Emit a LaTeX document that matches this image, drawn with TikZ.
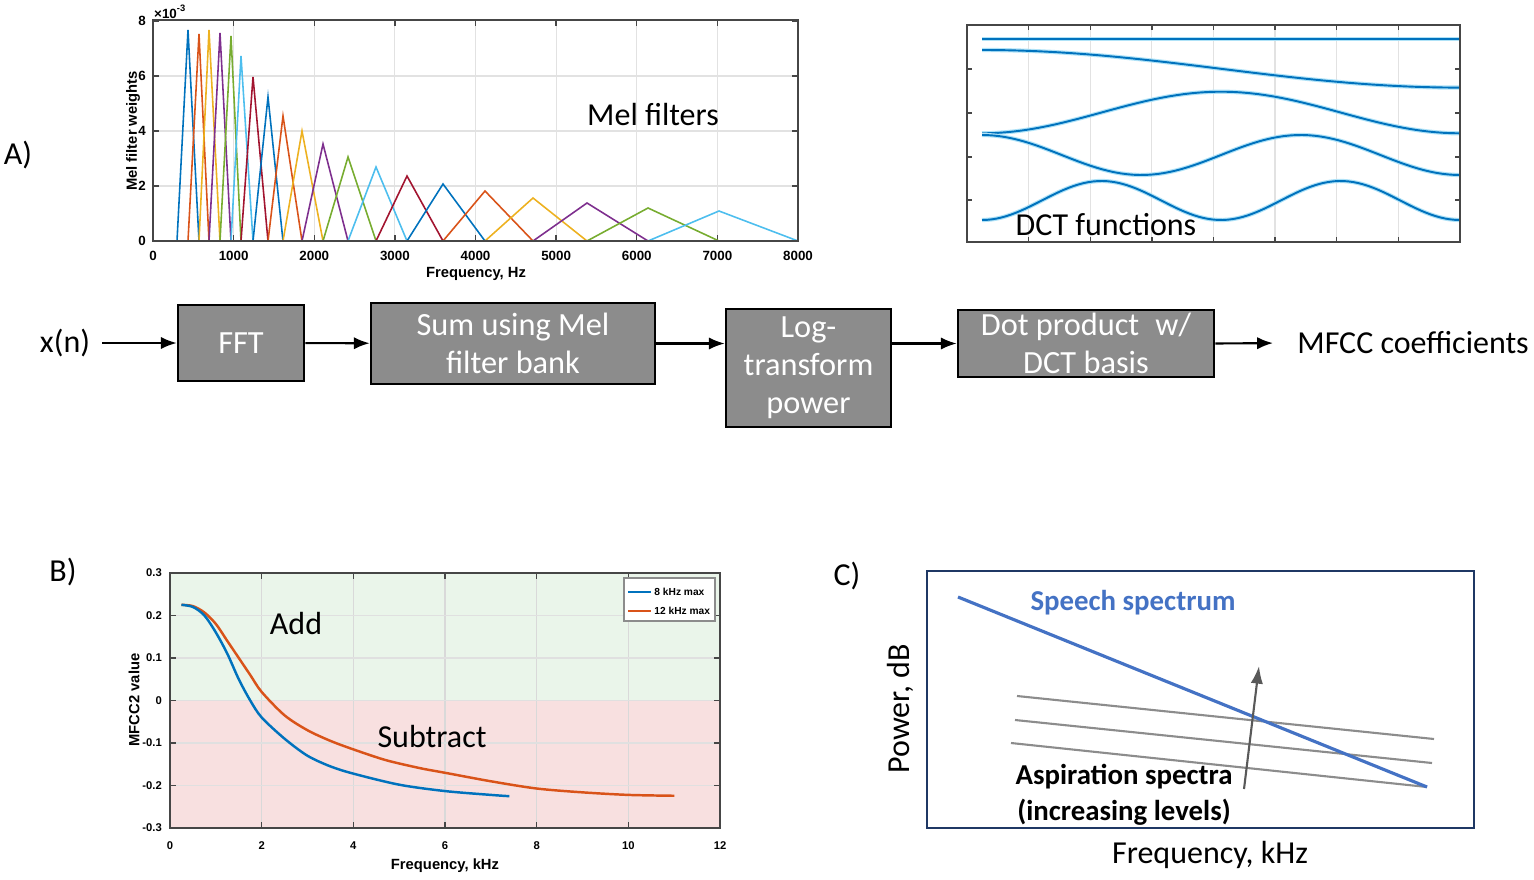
\documentclass[tikz,border=0pt]{standalone}
\usepackage{fontspec}
\setmainfont{Carlito}
\newfontfamily\plotfont{Liberation Sans}
\usetikzlibrary{arrows.meta}

% MATLAB line colours
\definecolor{mlblue}{rgb}{0,0.447,0.741}
\definecolor{mlorange}{rgb}{0.85,0.325,0.098}
\definecolor{mlyellow}{rgb}{0.929,0.694,0.125}
\definecolor{mlpurple}{rgb}{0.494,0.184,0.556}
\definecolor{mlgreen}{rgb}{0.466,0.674,0.188}
\definecolor{mlcyan}{rgb}{0.301,0.745,0.933}
\definecolor{mlred}{rgb}{0.635,0.078,0.184}
\definecolor{boxgray}{RGB}{140,140,140}
\definecolor{gridgray}{RGB}{226,226,226}
\definecolor{axisgray}{RGB}{70,70,70}
\definecolor{addgreen}{RGB}{234,245,234}
\definecolor{subred}{RGB}{248,224,224}
\definecolor{speechblue}{RGB}{68,114,196}
\definecolor{framenavy}{RGB}{31,56,100}

\tikzset{
  bigtext/.style={font=\fontsize{9.1}{10.8}\selectfont},
  boldtext/.style={font=\fontsize{8.2}{10.2}\selectfont\bfseries},
  blockbox/.style={draw=black, line width=0.7pt, fill=boxgray, text=white,
    align=center, inner sep=0pt, font=\fontsize{9.2}{10.8}\selectfont},
  flowarrow/.style={-{Latex[length=4.5pt,width=3.5pt]}, line width=0.6pt},
  ticklabel/.style={font=\plotfont\bfseries\fontsize{3.8}{4}\selectfont, inner sep=1pt},
  smalltick/.style={font=\plotfont\bfseries\fontsize{3.2}{4}\selectfont, inner sep=1pt},
  legendtext/.style={font=\plotfont\bfseries\fontsize{2.9}{3}\selectfont, inner sep=0.5pt},
  axislabel/.style={font=\plotfont\bfseries\fontsize{4.2}{5}\selectfont, inner sep=1pt},
  gridline/.style={draw=gridgray, line width=0.3pt},
  axisbox/.style={draw=axisgray, line width=0.5pt},
  tickmark/.style={draw=axisgray, line width=0.4pt},
  melfilter/.style={line width=0.45pt},
  dctcurve/.style={mlblue, line width=0.55pt, preaction={draw, mlcyan!45, line width=1.2pt}},
}

\begin{document}
\begin{tikzpicture}[x=0.01cm, y=-0.01cm]
\useasboundingbox (0,0) rectangle (1534,879);

% ---------- A) Mel filter bank ----------
\node[bigtext] (labA) at (18,155) {A)};
\foreach \k in {1,...,7}
  \draw[gridline] ({153+80.625*\k},20) -- ({153+80.625*\k},241);
\foreach \v in {2,4,6}
  \draw[gridline] (153,{241-27.5*\v}) -- (798,{241-27.5*\v});
\foreach \k in {0,...,8} {
  \pgfmathtruncatemacro\hz{1000*\k}
  \draw[tickmark] ({153+80.625*\k},241) -- ++(0,-6);
  \draw[tickmark] ({153+80.625*\k},20) -- ++(0,6);
  \node[ticklabel] at ({153+80.625*\k},256) {\hz};
}
\foreach \v in {0,2,4,6,8} {
  \draw[tickmark] (153,{241-27.5*\v}) -- ++(6,0);
  \draw[tickmark] (798,{241-27.5*\v}) -- ++(-6,0);
  \node[ticklabel, anchor=east] at (150,{241-27.5*\v}) {\v};
}
% triangular filters
\foreach \a/\b/\c/\h/\col in {177/188/199/30/mlblue, 188/199/209/34/mlorange,
    199/209/220/30/mlyellow, 209/220/231/33/mlpurple, 220/231/241/36/mlgreen,
    231/241/253/56/mlcyan, 241/253/268/77/mlred, 253/268/283/97/mlblue,
    268/283/302/116/mlorange, 283/302/323/131/mlyellow, 302/323/348/144/mlpurple,
    323/348/376/157/mlgreen, 348/376/407/167/mlcyan, 376/407/443/176/mlred,
    407/443/485/184/mlblue, 443/485/533/191/mlorange, 485/533/587/198/mlyellow,
    533/587/648/203/mlpurple, 587/648/719/208/mlgreen, 648/719/798/211/mlcyan}
  \draw[melfilter, \col] (\a,241) -- (\b,\h) -- (\c,241);
\draw[mlcyan, line width=0.7pt] (153,241) -- (798,241);
\draw[axisbox] (153,20) rectangle (798,241);
\node[ticklabel, anchor=west] at (150,12) {×10\textsuperscript{-3}};
\node[axislabel] at (476,274) {Frequency, Hz};
\node[axislabel, rotate=90] at (133,131) {Mel filter weights};
\node[bigtext] (melname) at (653,115) {Mel filters};

% ---------- DCT basis ----------
\foreach \k in {1,...,7} {
  \draw[gridline] ({967+61.6*\k},25) -- ({967+61.6*\k},242);
  \draw[tickmark] ({967+61.6*\k},25) -- ++(0,5);
  \draw[tickmark] ({967+61.6*\k},242) -- ++(0,-5);
}
\foreach \y in {69,113,157,200} {
  \draw[tickmark] (967,\y) -- ++(5,0);
  \draw[tickmark] (1460,\y) -- ++(-5,0);
}
\draw[dctcurve] (982,39.3) -- (1460,39.3);
\draw[dctcurve] plot[domain=0:1, samples=60] ({982+478*\x},{68.8-18.8*cos(180*\x)});
\draw[dctcurve] plot[domain=0:1, samples=60] ({982+478*\x},{112.5+20.8*cos(360*\x)});
\draw[dctcurve] plot[domain=0:1, samples=80] ({982+478*\x},{155-20*cos(540*\x)});
\draw[dctcurve] plot[domain=0:1, samples=100] ({982+478*\x},{200.5+19.5*cos(720*\x)});
\draw[axisbox] (967,25) rectangle (1460,242);
\node[bigtext] (dctname) at (1106,225) {DCT functions};

% ---------- processing chain ----------
\node[bigtext] (xn) at (65,343) {x(n)};
\node[blockbox, minimum width=1.26cm, minimum height=0.76cm] (fft) at (241,343) {FFT};
\node[blockbox, minimum width=2.84cm, minimum height=0.81cm] (sum) at (513,343.5) {Sum using Mel\\filter bank};
\node[blockbox, minimum width=1.65cm, minimum height=1.18cm] (log) at (808.5,368) {Log-\\transform\\power};
\node[blockbox, minimum width=2.56cm, minimum height=0.67cm] (dot) at (1086,343.5) {Dot product\enspace w/\\DCT basis};
\node[bigtext, anchor=west] (mfcc) at (1285,343) {MFCC coefficients};

\draw[flowarrow] (xn) -- (fft);
\draw[flowarrow] (fft) -- (sum);
\draw[flowarrow] (sum.east) -- (sum.east -| log.west);
\draw[flowarrow] (dot.west -| log.east) -- (dot.west);
\draw[flowarrow, shorten >=1.2mm] (dot.east) -- (mfcc.west);

% ---------- B) MFCC2 vs bandwidth ----------
\node[bigtext] (labB) at (63,572) {B)};
\fill[addgreen] (170,573) rectangle (720,700.5);
\fill[subred] (170,700.5) rectangle (720,828);
\foreach \k in {1,...,5}
  \draw[gridline, draw=black!15] ({170+91.67*\k},573) -- ({170+91.67*\k},828);
\foreach \k in {1,...,5}
  \draw[gridline, draw=black!12] (170,{573+42.5*\k}) -- (720,{573+42.5*\k});
\foreach \k in {0,...,6} {
  \pgfmathtruncatemacro\fk{2*\k}
  \draw[tickmark] ({170+91.67*\k},828) -- ++(0,-6);
  \draw[tickmark] ({170+91.67*\k},573) -- ++(0,6);
  \node[smalltick] at ({170+91.67*\k},846) {\fk};
}
\foreach \v/\txt in {0/0.3, 1/0.2, 2/0.1, 3/0, 4/-0.1, 5/-0.2, 6/-0.3} {
  \draw[tickmark] (170,{573+42.5*\v}) -- ++(6,0);
  \draw[tickmark] (720,{573+42.5*\v}) -- ++(-6,0);
  \node[smalltick, anchor=east] at (166,{573+42.5*\v}) {\txt};
}
\begin{scope}[shift={(170,700.5)}, x=0.4583cm, y=4.25cm]
  \draw[mlorange, line width=0.7pt] plot[smooth] coordinates {(0.25,0.225) (0.5,0.222)
    (0.75,0.207) (1.0,0.18) (1.25,0.14) (1.5,0.1) (1.75,0.06) (2,0.02) (2.5,-0.035)
    (3,-0.07) (3.5,-0.095) (4,-0.115) (4.7,-0.14) (5.45,-0.159) (6,-0.17) (7,-0.19)
    (8,-0.207) (9,-0.216) (10,-0.222) (11,-0.224)};
  \draw[mlblue, line width=0.7pt] plot[smooth] coordinates {(0.25,0.225) (0.5,0.22)
    (0.75,0.2) (1.0,0.16) (1.25,0.11) (1.5,0.05) (1.75,0.0) (2,-0.04) (2.5,-0.09)
    (3,-0.13) (3.5,-0.155) (4,-0.172) (5,-0.198) (6,-0.213) (7,-0.222) (7.4,-0.225)};
\end{scope}
\draw[axisbox] (170,573) rectangle (720,828);
% legend
\draw[fill=white, draw=black!45, line width=0.4pt] (624,578) rectangle (715,621);
\draw[mlblue, line width=0.7pt] (628,592) -- (651,592);
\draw[mlorange, line width=0.7pt] (628,611) -- (651,611);
\node[legendtext, anchor=west] at (652,592) {8 kHz max};
\node[legendtext, anchor=west] at (652,611) {12 kHz max};
\node[axislabel] at (445,866) {Frequency, kHz};
\node[axislabel, rotate=90] at (134,700) {MFCC2 value};
\node[bigtext] (addtext) at (296,623) {Add};
\node[bigtext] (subtext) at (432,736) {Subtract};

% ---------- C) speech vs aspiration spectra ----------
\node[bigtext] (labC) at (847,576) {C)};
\draw[framenavy, line width=0.8pt] (927,571) rectangle (1474,828);
\draw[black!45, line width=0.6pt] (1017,696) -- (1434,739);
\draw[black!45, line width=0.6pt] (1015,720) -- (1432,763);
\draw[black!45, line width=0.6pt] (1011,743) -- (1427,787);
\draw[speechblue, line width=0.9pt] (958,597) -- (1427,787);
\coordinate (levlow) at (1244,789);
\coordinate (levhigh) at (1259,666);
\draw[black!65, line width=0.6pt, -{Latex[length=5pt,width=3.5pt]}] (levlow) -- (levhigh);
\node[boldtext, text=speechblue] (speech) at (1133,603) {Speech spectrum};
\node[boldtext, align=center] (aspir) at (1124,795) {Aspiration spectra\\(increasing levels)};
\node[bigtext, rotate=90] (powlab) at (900,709) {Power, dB};
\node[bigtext] (freqlab) at (1210,855) {Frequency, kHz};

\end{tikzpicture}
\end{document}
